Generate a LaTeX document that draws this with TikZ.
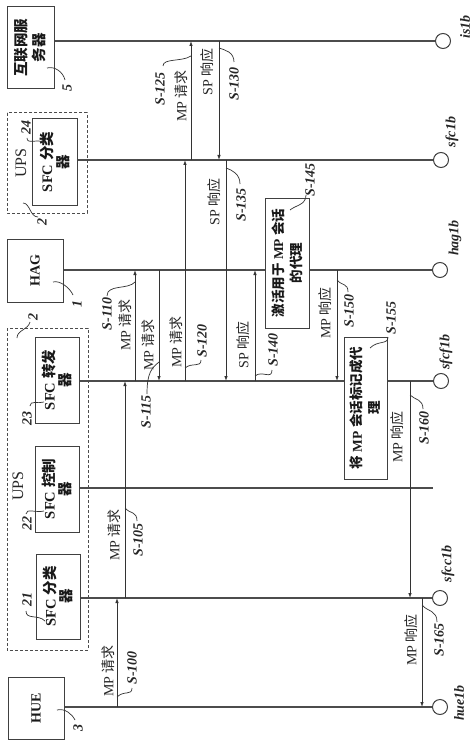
\documentclass[tikz,border=0pt]{standalone}
\usepackage{fontspec}
\setmainfont{Liberation Serif}
\newfontfamily\cjk{Noto Sans CJK SC}
\usetikzlibrary{arrows.meta}
\newcommand\zh[1]{{\cjk #1}}
\begin{document}
\begin{tikzpicture}[x=1pt,y=-1pt,
 life/.style={line width=1.1pt, draw=black!70},
 msg/.style={line width=0.8pt, draw=black!80, -{Latex[length=5pt,width=3.5pt]}},
 ent/.style={draw=black!75, line width=1pt, fill=white, rotate=90, align=center, inner sep=0pt, text=black!90, font=\bfseries\fontsize{14.5}{16}\selectfont},
 upsbox/.style={draw=black!70, line width=1pt, dash pattern=on 3pt off 2pt},
 endc/.style={circle, draw=black!75, line width=1pt, minimum size=15pt, inner sep=0pt, fill=white},
 txt/.style={rotate=90, inner sep=0pt, text=black!85, font=\fontsize{14}{16}\selectfont},
 slbl/.style={rotate=90, inner sep=0pt, text=black!85, font=\bfseries\itshape\fontsize{14}{16}\selectfont},
 lead/.style={line width=0.7pt, draw=black!80},
]
\useasboundingbox (0,0) rectangle (474,746);
\fill[white] (0,0) rectangle (474,746);

% end circles
\node[endc] (is1b) at (443,41) {};
\node[endc] (sfc1b) at (441,160) {};
\node[endc] (hag1b) at (440,270) {};
\node[endc] (sfcf1b) at (441,381) {};
\node[endc] (sfcc1b) at (440,598) {};
\node[endc] (hue1b) at (440,707) {};
\coordinate (ctlend) at (433,488);

% entity boxes (placed first for anchors, drawn over lines later)
\path
 node[ent, minimum width=82pt, minimum height=47pt, font=\bfseries\fontsize{14.5}{18}\selectfont] (srv) at (30.5,48) {\zh{互联网服}\\\zh{务器}}
 node[ent, minimum width=63pt, minimum height=56pt, font=\bfseries\fontsize{14}{16}\selectfont] (hag) at (35,270.5) {HAG}
 node[ent, minimum width=62pt, minimum height=56pt, font=\bfseries\fontsize{14}{16}\selectfont] (hue) at (36,708) {HUE};

% UPS groups
\draw[upsbox] (7,113) rectangle (87,213);
\draw[upsbox] (7,328) rectangle (88,650);
\node[rotate=90, inner sep=0pt, font=\fontsize{16}{18}\selectfont, text=black!85] (ups1) at (21,163) {UPS};
\node[rotate=90, inner sep=0pt, font=\fontsize{16}{18}\selectfont, text=black!85] (ups2) at (18,486) {UPS};

\path
 node[ent, minimum width=86pt, minimum height=45pt] (cls24) at (54.5,162) {SFC \zh{分类}\\\zh{器}}
 node[ent, minimum width=86pt, minimum height=44pt] (fwd) at (57,380) {SFC \zh{转发}\\\zh{器}}
 node[ent, minimum width=86pt, minimum height=44pt] (ctl) at (57,489) {SFC \zh{控制}\\\zh{器}}
 node[ent, minimum width=85pt, minimum height=44pt] (cls21) at (58,596.5) {SFC \zh{分类}\\\zh{器}};

% lifelines
\draw[life] (srv.south |- is1b) -- (is1b);
\draw[life] (cls24.south |- sfc1b) -- (sfc1b);
\draw[life] (hag.south |- hag1b) -- (hag1b);
\draw[life] (fwd.south |- sfcf1b) -- (sfcf1b);
\draw[life] (ctl.south |- ctlend) -- (ctlend);
\draw[life] (cls21.south |- sfcc1b) -- (sfcc1b);
\draw[life] (hue.south |- hue1b) -- (hue1b);

% redraw boxes on top
\path
 node[ent, minimum width=82pt, minimum height=47pt, font=\bfseries\fontsize{14.5}{18}\selectfont] at (30.5,48) {\zh{互联网服}\\\zh{务器}}
 node[ent, minimum width=63pt, minimum height=56pt, font=\bfseries\fontsize{14}{16}\selectfont] at (35,270.5) {HAG}
 node[ent, minimum width=62pt, minimum height=56pt, font=\bfseries\fontsize{14}{16}\selectfont] at (36,708) {HUE}
 node[ent, minimum width=86pt, minimum height=45pt] at (54.5,162) {SFC \zh{分类}\\\zh{器}}
 node[ent, minimum width=86pt, minimum height=44pt] at (57,380) {SFC \zh{转发}\\\zh{器}}
 node[ent, minimum width=86pt, minimum height=44pt] at (57,489) {SFC \zh{控制}\\\zh{器}}
 node[ent, minimum width=85pt, minimum height=44pt] at (58,596.5) {SFC \zh{分类}\\\zh{器}};

% x positions of messages
\coordinate (x100) at (117,0);
\coordinate (x105) at (125,0);
\coordinate (x110) at (135,0);
\coordinate (x115) at (159,0);
\coordinate (x120) at (185,0);
\coordinate (x125) at (191,0);
\coordinate (x130) at (219,0);
\coordinate (x135) at (226,0);
\coordinate (x140) at (255,0);
\coordinate (x150) at (337,0);
\coordinate (x160) at (410,0);
\coordinate (x165) at (422,0);

\draw[msg] (x100 |- hue1b) -- (x100 |- sfcc1b);
\draw[msg] (x105 |- sfcc1b) -- (x105 |- sfcf1b);
\draw[msg] (x110 |- sfcf1b) -- (x110 |- hag1b);
\draw[msg] (x115 |- hag1b) -- (x115 |- sfcf1b);
\draw[msg] (x120 |- sfcf1b) -- (x120 |- sfc1b);
\draw[msg] (x125 |- sfc1b) -- (x125 |- is1b);
\draw[msg] (x130 |- is1b) -- (x130 |- sfc1b);
\draw[msg] (x135 |- sfc1b) -- (x135 |- sfcf1b);
\draw[msg] (x140 |- sfcf1b) -- (x140 |- hag1b);
\draw[msg] (x150 |- hag1b) -- (x150 |- sfcf1b);
\draw[msg] (x160 |- sfcf1b) -- (x160 |- sfcc1b);
\draw[msg] (x165 |- sfcc1b) -- (x165 |- hue1b);

% process boxes
\node[ent, minimum width=130pt, minimum height=44pt, font=\bfseries\fontsize{13.5}{18}\selectfont] (act) at (287,263) {\zh{激活用于} MP \zh{会话}\\\zh{的代理}};
\node[ent, minimum width=142pt, minimum height=43pt, font=\bfseries\fontsize{13.5}{18}\selectfont] (mark) at (365.5,408) {\zh{将} MP \zh{会话标记成代}\\\zh{理}};

% message labels
\node[txt] (l100) at (108,671) {MP \zh{请求}};
\node[txt] (l105) at (114,535) {MP \zh{请求}};
\node[txt] (l110) at (125,325) {MP \zh{请求}};
\node[txt] (l115) at (148,345) {MP \zh{请求}};
\node[txt] (l120) at (176,342) {MP \zh{请求}};
\node[txt] (l125) at (181,96) {MP \zh{请求}};
\node[txt] (l130) at (207,72) {SP \zh{响应}};
\node[txt] (l135) at (214,202) {SP \zh{响应}};
\node[txt] (l140) at (243,345) {SP \zh{响应}};
\node[txt] (l150) at (325,313) {MP \zh{响应}};
\node[txt] (l160) at (397,437) {MP \zh{响应}};
\node[txt] (l165) at (411,640) {MP \zh{响应}};

\node[slbl] (s100) at (132,668) {S-100};
\node[slbl] (s105) at (138,540) {S-105};
\node[slbl] (s110) at (107,314) {S-110};
\node[slbl] (s115) at (146,412) {S-115};
\node[slbl] (s120) at (202,341) {S-120};
\node[slbl] (s125) at (160,89) {S-125};
\node[slbl] (s130) at (234,84) {S-130};
\node[slbl] (s135) at (241,205) {S-135};
\node[slbl] (s140) at (273,350) {S-140};
\node[slbl] (s145) at (310,180) {S-145};
\node[slbl] (s150) at (349,311) {S-150};
\node[slbl] (s155) at (391,318) {S-155};
\node[slbl] (s160) at (424,428) {S-160};
\node[slbl] (s165) at (439,640) {S-165};

% lifeline labels
\node[slbl] (tis) at (465,27) {is1b};
\node[slbl] (tsfc) at (452,132) {sfc1b};
\node[slbl] (thag) at (455,238) {hag1b};
\node[slbl] (tsfcf) at (446,352) {sfcf1b};
\node[slbl] (tsfcc) at (448,564) {sfcc1b};
\node[slbl] (thue) at (459,703) {hue1b};

% reference numbers
\node[slbl] (n5) at (67,88) {5};
\node[slbl] (n24) at (26,128) {24};
\node[slbl] (n2a) at (42,222) {2};
\node[slbl] (n1) at (77,304) {1};
\node[slbl] (n2b) at (33,317) {2};
\node[slbl] (n23) at (27,418) {23};
\node[slbl] (n22) at (27,523) {22};
\node[slbl] (n21) at (27,599) {21};
\node[slbl] (n3) at (78,728) {3};

% leaders
\draw[lead] (163,66) .. controls (163,58) and (182,62) .. (191,56);
\draw[lead] (234,62) .. controls (234,52) and (225,50) .. (219,48);
\draw[lead] (240,184) .. controls (240,174) and (232,170) .. (226,168);
\draw[lead] (306,195) .. controls (306,205) and (296,205) .. (290,210);
\draw[lead] (107,296) .. controls (107,284) and (128,290) .. (135,282);
\draw[lead] (147,394) .. controls (147,372) and (152,368) .. (159,362);
\draw[lead] (201,360) .. controls (201,368) and (192,362) .. (185,368);
\draw[lead] (272,370) .. controls (272,380) and (262,370) .. (255,376);
\draw[lead] (348,292) .. controls (348,283) and (342,286) .. (337,280);
\draw[lead] (388,337) .. controls (388,345) and (378,340) .. (370,348);
\draw[lead] (423,409) .. controls (423,399) and (415,400) .. (410,395);
\draw[lead] (437,622) .. controls (437,610) and (428,612) .. (422,605);
\draw[lead] (132,688) .. controls (132,696) and (124,690) .. (117,697);
\draw[lead] (137,521) .. controls (137,511) and (130,514) .. (125,508);

\draw[lead] (47,68) .. controls (55,66) and (63,72) .. (65,80);
\draw[lead] (27,138) .. controls (27,145) and (38,138) .. (45,143);
\draw[lead] (23,203) .. controls (30,203) and (30,217) .. (38,217);
\draw[lead] (53,282) .. controls (60,280) and (70,288) .. (73,295);
\draw[lead] (17,338) .. controls (17,330) and (28,330) .. (30,322);
\draw[lead] (30,406) .. controls (30,400) and (38,404) .. (44,402);
\draw[lead] (26,514) .. controls (26,508) and (36,513) .. (44,511);
\draw[lead] (26,611) .. controls (26,620) and (38,614) .. (45,621);
\draw[lead] (57,710) .. controls (65,708) and (72,714) .. (75,720);
\end{tikzpicture}
\end{document}
